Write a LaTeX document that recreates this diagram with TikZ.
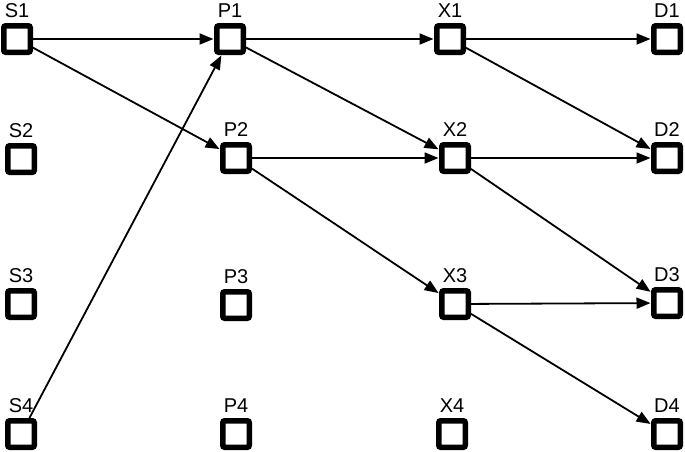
\documentclass[tikz,border=0pt]{standalone}
\usepackage{fontspec}
\setmainfont{Liberation Sans}
\usetikzlibrary{arrows.meta}
\newcommand{\lblfont}{\fontsize{20}{20}\selectfont}
\begin{document}
\begin{tikzpicture}[x=1pt,y=1pt,
  box/.style={draw=black, line width=5.5pt, fill=white, minimum size=26.5pt, inner sep=0pt,
    rounded corners=2pt},
  lbl/.style={font=\lblfont, inner sep=0pt, text depth=0pt, anchor=south},
  conn/.style={draw=black, line width=1.8pt, -{Triangle[length=14pt,width=11pt]}, shorten >=0.5pt}
]
\useasboundingbox (0,0) rectangle (685,-451);
\foreach \n/\x/\y in {S1/17/39, S2/21/159, S3/21/304, S4/21/434,
  P1/230/39, P2/236/158, P3/236/305, P4/236/434,
  X1/450/39, X2/455/158, X3/455/304, X4/452/434,
  D1/667/39, D2/667/158, D3/667/303, D4/667/434}{
  \node[box] (\n) at (\x,-\y) {};
  \node[lbl] (\n-l) at ([yshift=5pt]\n.north) {\n};
}
\draw[conn] (S1) -- (P1);
\draw[conn] (S1) -- (P2);
\draw[conn] (S4) -- (P1);
\draw[conn] (P1) -- (X1);
\draw[conn] (P1) -- (X2);
\draw[conn] (P2) -- (X2);
\draw[conn] (P2) -- (X3);
\draw[conn] (X1) -- (D1);
\draw[conn] (X1) -- (D2);
\draw[conn] (X2) -- (D2);
\draw[conn] (X2) -- (D3);
\draw[conn] (X3) -- (D3);
\draw[conn] (X3) -- (D4);
\end{tikzpicture}
\end{document}
